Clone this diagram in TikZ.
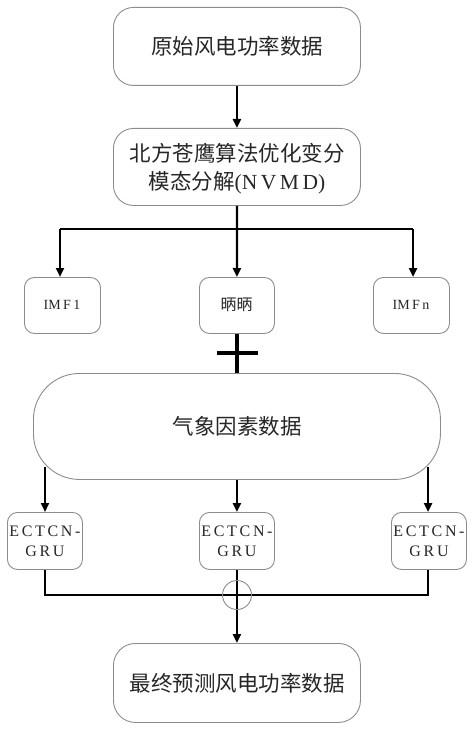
\documentclass[tikz,border=0pt]{standalone}
\usepackage{fontspec}
\setmainfont{Liberation Serif}
\newfontfamily\cjk{Noto Sans CJK SC}
\usetikzlibrary{arrows.meta}
\begin{document}
\begin{tikzpicture}[x=1pt,y=-1pt,
  box/.style={draw=black!45,line width=0.9pt,rounded corners=#1,inner sep=0pt,anchor=north west},
  box/.default=20pt,
  arr/.style={line width=2.4pt,-{Triangle[length=9pt,width=8pt]}},
  ln/.style={line width=2.4pt},
  thin/.style={line width=1.3pt},
  big/.style={font=\cjk\fontsize{21.5}{28}\selectfont,text=black!85},
  mid/.style={font=\fontsize{16}{20}\selectfont,align=center,text=black!85},
  sm/.style={font=\fontsize{14}{18}\selectfont,text=black!85}]
\useasboundingbox (0,0) rectangle (474,730);
% top boxes
\node[box,minimum width=247pt,minimum height=78pt] (b1) at (113,7) {};
\node[big] (t1) at (237,46) {原始风电功率数据};
\node[box,minimum width=247pt,minimum height=77pt] (b2) at (113,128) {};
\node[big,align=center] (t2) at (237,169) {北方苍鹰算法优化变分\\模态分解{\rmfamily(N\,V\,M\,D)}};
% IMF boxes
\node[box=10pt,minimum width=76pt,minimum height=56pt] (i1) at (24,277) {};
\node[box=10pt,minimum width=75pt,minimum height=56pt] (i2) at (199,277) {};
\node[box=10pt,minimum width=76pt,minimum height=56pt] (i3) at (373,277) {};
\node[sm] (it1) at (62,305) {IM\,F\,1};
\node[font=\cjk\fontsize{16}{18}\selectfont,text=black!85] (it2) at (236.5,305) {昞昞};
\node[sm] (it3) at (411,305) {IM\,F\,n};
% big box
\node[box=46pt,minimum width=407pt,minimum height=106pt] (bb) at (33,373) {};
\node[big] (tb) at (237,426) {气象因素数据};
% ECTCN boxes
\node[box=10pt,minimum width=75pt,minimum height=57pt] (e1) at (7,512) {};
\node[box=10pt,minimum width=75pt,minimum height=57pt] (e2) at (199,512) {};
\node[box=10pt,minimum width=75pt,minimum height=57pt] (e3) at (391,512) {};
\node[mid] (et1) at (45,541) {E\,C\,T\,C\,N\,-\\G\,R\,U};
\node[mid] (et2) at (237,541) {E\,C\,T\,C\,N\,-\\G\,R\,U};
\node[mid] (et3) at (429,541) {E\,C\,T\,C\,N\,-\\G\,R\,U};
% final
\node[box=22pt,minimum width=247pt,minimum height=79pt] (bf) at (113,643) {};
\node[big] (tf) at (237,683) {最终预测风电功率数据};
% coordinates
\coordinate (s) at (237,229);
\coordinate (sl) at (60,229);
\coordinate (sr) at (413,229);
\coordinate (pl) at (217,353);
\coordinate (pr) at (258,353);
\coordinate (gl) at (45,467);
\coordinate (gr) at (428,467);
\coordinate (m) at (237,595);
\coordinate (ml) at (45,595);
\coordinate (mr) at (428,595);
% connectors
\draw[arr] (b1.south) -- (b2.north);
\draw[ln] (b2.south) -- (s);
\draw[ln] (sl) -- (sr);
\draw[arr] (sl) -- (sl|-i1.north);
\draw[arr] (s) -- (i2.north);
\draw[arr] (sr) -- (sr|-i3.north);
\draw[line width=3.4pt] (i2.south) -- (bb.north);
\draw[line width=3.4pt] (pl) -- (pr);
\draw[arr] (gl) -- (gl|-e1.north);
\draw[arr] (bb.south) -- (e2.north);
\draw[arr] (gr) -- (gr|-e3.north);
\draw[thin] (e1.south-|ml) -- (ml) -- (mr) -- (e3.south-|mr);
\draw[arr] (e2.south) -- (bf.north);
\draw[draw=black!45,line width=0.9pt] (m) circle (14.5pt);
\end{tikzpicture}
\end{document}
